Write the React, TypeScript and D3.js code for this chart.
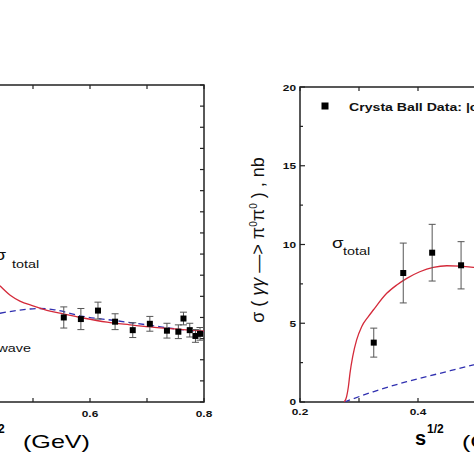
import * as d3 from "d3";

// left panel: charged-pion cross section (only its right part is in view)
const leftS = [0.554, 0.584, 0.614, 0.644, 0.675, 0.705, 0.735, 0.755, 0.764, 0.775, 0.785, 0.793];
const leftSigma = [160, 157, 173, 152, 136, 148, 135, 133, 158, 136, 125, 129];
const leftErr = [20, 20, 16, 15, 14, 14, 14, 13, 12, 13, 12, 12];

const leftTotalS = [0.442, 0.46, 0.477, 0.5, 0.53, 0.553, 0.588, 0.63, 0.67, 0.705, 0.763, 0.8];
const leftTotalV = [220, 202, 191, 182, 172, 167, 159, 151, 146, 142, 137, 134];
const leftWaveS = [0.442, 0.477, 0.512, 0.535, 0.588, 0.645, 0.7, 0.76, 0.8];
const leftWaveV = [168, 174, 177, 175, 162, 154, 146, 137, 133];

// right panel: gamma gamma -> pi0 pi0, Crystal Ball
const cbS = [0.325, 0.375, 0.424, 0.473];
const cbSigma = [3.77, 8.19, 9.48, 8.68];
const cbErr = [0.92, 1.9, 1.8, 1.5];

const rightTotalS = [0.2751, 0.279, 0.282, 0.2847, 0.2893, 0.296, 0.3045, 0.3158, 0.3243, 0.347, 0.364, 0.381, 0.403, 0.426, 0.449, 0.471, 0.494, 0.52];
const rightTotalV = [0, 0.34, 0.97, 1.82, 2.88, 3.94, 4.78, 5.42, 5.84, 6.9, 7.43, 7.85, 8.27, 8.55, 8.65, 8.63, 8.55, 8.4];
const rightWaveS = [0.2751, 0.324, 0.381, 0.437, 0.494, 0.52];
const rightWaveV = [0, 0.65, 1.29, 1.82, 2.35, 2.55];

const xTickVals = [0.2, 0.3, 0.4, 0.5, 0.6, 0.7, 0.8, 0.9, 1.0];
const xTickLabels = ["0.2", "0.4", "0.6", "0.8", "1.0"];
const rightYLabels = ["0", "5", "10", "15", "20"];

const W = 474;
const H = 474;
const sx = 1.25; // text in this figure is wider than tall
const RED = "#d42a3a";
const BLUE = "#3030b0";
const AXIS = "#222";
const FONT = "'Liberation Sans', Arial, sans-serif";

const xL = d3.scaleLinear().domain([0.2, 0.8]).range([-138, 204]);
const yL = d3.scaleLinear().domain([0, 600]).range([402, 85]);
const xR = d3.scaleLinear().domain([0.2, 1.0]).range([300, 772]);
const yR = d3.scaleLinear().domain([0, 20]).range([402, 87]);

function Txt({ x, y, size, weight = "normal", anchor = "start", children }: any) {
  return (
    <text
      transform={`translate(${x},${y}) scale(${sx},1)`}
      fontSize={size}
      fontWeight={weight}
      textAnchor={anchor}
      fontFamily={FONT}
      fill="#111"
    >
      {children}
    </text>
  );
}

function curve(xs: number[], vs: number[], x: any, y: any) {
  const pts = xs.map((s, i) => [s, vs[i]] as [number, number]);
  return d3
    .line<[number, number]>()
    .x((d) => x(d[0]))
    .y((d) => y(d[1]))
    .curve(d3.curveMonotoneX)(pts) as string;
}

function Points({ xs, vs, es, x, y }: any) {
  return (
    <g>
      {xs.map((s: number, i: number) => {
        const cx = x(s);
        const cy = y(vs[i]);
        const top = y(vs[i] + es[i]);
        const bot = y(vs[i] - es[i]);
        return (
          <g key={i}>
            <line x1={cx} x2={cx} y1={top} y2={bot} stroke="#555" strokeWidth={1} />
            <line x1={cx - 3.5} x2={cx + 3.5} y1={top} y2={top} stroke="#555" strokeWidth={1} />
            <line x1={cx - 3.5} x2={cx + 3.5} y1={bot} y2={bot} stroke="#555" strokeWidth={1} />
            <rect x={cx - 3} y={cy - 3} width={6} height={6} fill="#000" />
          </g>
        );
      })}
    </g>
  );
}

export default function App() {
  const [l0, l1] = [xL(0.2), xL(0.8)];
  const [r0, r1] = [xR(0.2), xR(1.0)];
  const leftMinorY = d3.range(0, 601, 40);
  const rightMinorY = d3.range(0, 20.1, 2.5);
  const onScreen = (px: number) => px > 0 && px < W;

  return (
    <svg width={W} height={H} style={{ position: "fixed", left: 0, top: 0, background: "#fff" }}>
      <defs>
        <clipPath id="clipL">
          <rect x={l0} y={yL(600)} width={l1 - l0} height={yL(0) - yL(600)} />
        </clipPath>
        <clipPath id="clipR">
          <rect x={r0} y={yR(20)} width={r1 - r0} height={yR(0) - yR(20)} />
        </clipPath>
      </defs>

      {/* left panel */}
      <g>
        {xTickVals.filter((v) => v <= 0.8).map((v) => (
          <g key={v}>
            <line x1={xL(v)} x2={xL(v)} y1={yL(0)} y2={yL(0) - 4} stroke={AXIS} strokeWidth={1.2} />
            <line x1={xL(v)} x2={xL(v)} y1={yL(600)} y2={yL(600) + 4} stroke={AXIS} strokeWidth={1.2} />
          </g>
        ))}
        {leftMinorY.map((v) => (
          <line key={v} x1={l1} x2={l1 - 4} y1={yL(v)} y2={yL(v)} stroke={AXIS} strokeWidth={1.2} />
        ))}
        <rect x={l0} y={yL(600)} width={l1 - l0} height={yL(0) - yL(600)} fill="none" stroke={AXIS} strokeWidth={1.5} />
        {xTickLabels.filter((t) => +t <= 0.8 && onScreen(xL(+t))).map((t) => (
          <Txt key={t} x={xL(+t)} y={417} size={9.5} weight="bold" anchor="middle">{t}</Txt>
        ))}
        <g clipPath="url(#clipL)">
          <path d={curve(leftWaveS, leftWaveV, xL, yL)} fill="none" stroke={BLUE} strokeWidth={1.3} strokeDasharray="6,4" />
          <path d={curve(leftTotalS, leftTotalV, xL, yL)} fill="none" stroke={RED} strokeWidth={1.3} />
          <Points xs={leftS} vs={leftSigma} es={leftErr} x={xL} y={yL} />
        </g>
        <Txt x={6} y={260} size={15} anchor="end">σ</Txt>
        <Txt x={12} y={268} size={11.5}>total</Txt>
        <Txt x={31} y={352} size={11.5} anchor="end">S-wave</Txt>
        <text x={-24} y={445} fontSize={20} fontWeight="bold" fontFamily={FONT}>s</text>
        <text x={-12} y={433} fontSize={12} fontWeight="bold" fontFamily={FONT}>1/2</text>
        <text x={23} y={448} fontSize={19} fontFamily={FONT} textLength={67} lengthAdjust="spacingAndGlyphs">(GeV)</text>
      </g>

      {/* right panel */}
      <g>
        {xTickVals.map((v) => (
          <g key={v}>
            <line x1={xR(v)} x2={xR(v)} y1={yR(0)} y2={yR(0) - 4} stroke={AXIS} strokeWidth={1.2} />
            <line x1={xR(v)} x2={xR(v)} y1={yR(20)} y2={yR(20) + 4} stroke={AXIS} strokeWidth={1.2} />
          </g>
        ))}
        {rightMinorY.map((v) => (
          <line key={v} x1={r0} x2={r0 + (v % 5 === 0 ? 5 : 3)} y1={yR(v)} y2={yR(v)} stroke={AXIS} strokeWidth={1.2} />
        ))}
        <rect x={r0} y={yR(20)} width={r1 - r0} height={yR(0) - yR(20)} fill="none" stroke={AXIS} strokeWidth={1.5} />
        {xTickLabels.filter((t) => onScreen(xR(+t))).map((t) => (
          <Txt key={t} x={xR(+t)} y={414.5} size={9.5} weight="bold" anchor="middle">{t}</Txt>
        ))}
        {rightYLabels.map((t) => (
          <Txt key={t} x={296} y={yR(+t) + (t === "0" ? 2.5 : 3.5)} size={9.5} weight="bold" anchor="end">{t}</Txt>
        ))}
        <g clipPath="url(#clipR)">
          <path d={curve(rightWaveS, rightWaveV, xR, yR)} fill="none" stroke={BLUE} strokeWidth={1.3} strokeDasharray="6,4" />
          <path d={curve(rightTotalS, rightTotalV, xR, yR)} fill="none" stroke={RED} strokeWidth={1.3} />
          <Points xs={cbS} vs={cbSigma} es={cbErr} x={xR} y={yR} />
        </g>
        <rect x={321.5} y={102.5} width={7} height={7} fill="#000" />
        <Txt x={349} y={111} size={11.3} weight="bold">Crysta Ball Data: |cosθ| &lt; 0.8</Txt>
        <Txt x={332} y={248} size={15}>σ</Txt>
        <Txt x={343} y={255} size={11.5}>total</Txt>

        <text
          transform="translate(264,240) rotate(-90)"
          textAnchor="middle"
          fontSize={18}
          fontFamily={FONT}
          fill="#111"
        >
          σ ( <tspan fontStyle="italic">γγ</tspan> —&gt; π<tspan dy={-7} fontSize={10}>0</tspan>
          <tspan dy={7}>π</tspan>
          <tspan dy={-7} fontSize={10}>0</tspan>
          <tspan dy={7}> ) , nb</tspan>
        </text>

        <text x={415} y={445} fontSize={20} fontWeight="bold" fontFamily={FONT}>s</text>
        <text x={427} y={433} fontSize={12} fontWeight="bold" fontFamily={FONT}>1/2</text>
        <text x={462} y={448} fontSize={19} fontFamily={FONT} textLength={67} lengthAdjust="spacingAndGlyphs">(GeV)</text>
      </g>
    </svg>
  );
}
